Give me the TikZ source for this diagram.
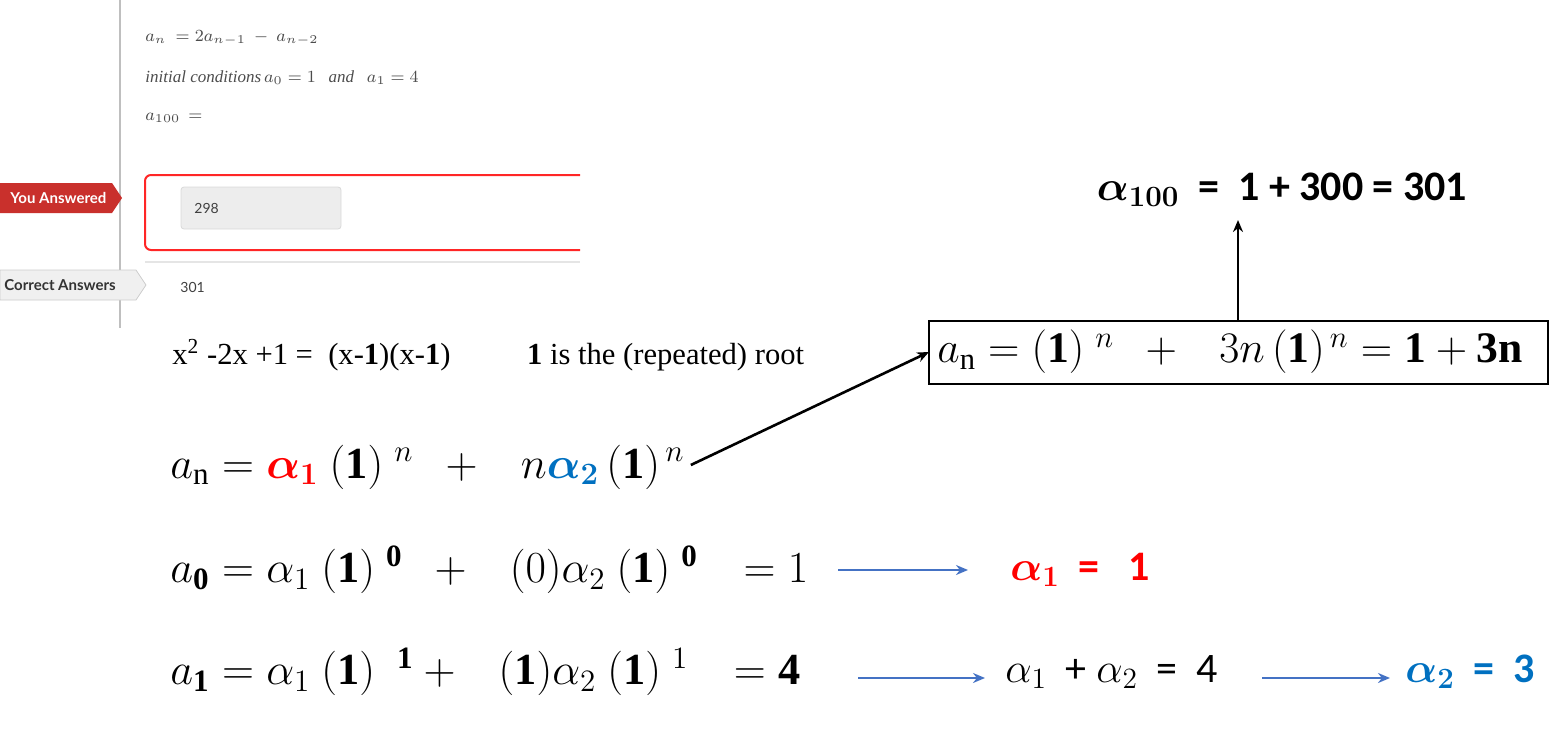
\documentclass[tikz,border=0pt]{standalone}
\usepackage{fix-cm}
\usepackage{amsmath,bm}
\usepackage{fontspec}
\setmainfont{Liberation Serif}
\newfontfamily\quizfont{Lato}
\newfontfamily\calib{Carlito}
\usetikzlibrary{arrows.meta}
\definecolor{eqred}{HTML}{FF0000}
\definecolor{eqblue}{HTML}{0070C0}
\definecolor{arrblue}{HTML}{4472C4}
\definecolor{tagred}{HTML}{C9302C}
\begin{document}
\begin{tikzpicture}[x=0.5pt,y=-0.5pt,
  big/.style={anchor=west,inner sep=0,font=\fontsize{22.2}{25}\selectfont},
  quiz/.style={anchor=west,inner sep=0,font=\fontsize{8.5}{10}\selectfont,text=black!70},
  barrow/.style={draw=arrblue,line width=1.2pt,-{Stealth[length=6pt,width=5pt]}},
  karrow/.style={draw=black,line width=1.3pt,-{Stealth[length=6pt,width=5pt]}}]
\useasboundingbox (0,0) rectangle (1552,738);
% quiz area
\draw[black!25,line width=0.8pt] (120,0) -- (120,328);
\node[quiz] (q1) at (145,38) {$a_n\ =2a_{n-1}\ -\ a_{n-2}$};
\node[quiz] (q2) at (145,78) {$\mathit{initial\ conditions}\,a_0=1\ \ \ \mathit{and}\ \ \ a_1=4$};
\node[quiz] (q3) at (145,118) {$a_{100}\,=$};
\fill[tagred] (0,183) -- (112,183) -- (122,198) -- (112,213) -- (0,213) -- cycle;
\node[anchor=west,inner sep=0,text=white,font=\quizfont\bfseries\fontsize{7.5}{9}\selectfont] (ya) at (10,198) {You Answered};
\draw[red!85,line width=1pt,rounded corners=3pt] (580,175) -- (145,175) -- (145,250) -- (580,250);
\draw[black!15,fill=black!7,rounded corners=1.5pt] (181,187) rectangle (341,229);
\node[anchor=west,inner sep=0,font=\quizfont\fontsize{7}{9}\selectfont,text=black!75] (v298) at (194,208) {298};
\draw[black!10,line width=0.8pt] (145,262) -- (580,262);
\draw[black!20,fill=black!6] (0,270) -- (136,270) -- (146,285) -- (136,300) -- (0,300) -- cycle;
\node[anchor=west,inner sep=0,text=black!80,font=\quizfont\bfseries\fontsize{7.5}{9}\selectfont] (ca) at (4,285) {Correct Answers};
\node[anchor=west,inner sep=0,font=\quizfont\fontsize{7}{9}\selectfont,text=black!75] (v301) at (180,287) {301};
% root line
\node[anchor=west,inner sep=0,font=\fontsize{15.3}{18}\selectfont] (root) at (172,355) {x\textsuperscript{2} -2x +1 =\ \ (x-\textbf{1})(x-\textbf{1})\qquad\ \ \textbf{1} is the (repeated) root};
% general solution
\node[big] (gen) at (170,467) {$a_{\text{n}}=\textcolor{eqred}{\bm{\alpha_1}}\ (\mathbf{1})^{\ n}\ \ +\ \ \ n\textcolor{eqblue}{\bm{\alpha_2}}\,(\mathbf{1})^{\,n}$};
\draw[line width=0.8pt] (929,321) rectangle (1548,384);
\node[anchor=west,inner sep=0,font=\fontsize{21.8}{24}\selectfont] (box) at (937,352) {$a_{\text{n}}=(\mathbf{1})^{\ n}\ \ +\ \ \ 3n\,(\mathbf{1})^{\,n}=\mathbf{1+3n}$};
\coordinate (boxW) at (929,352);
\coordinate (boxN) at (1238,321);
\node[anchor=center,inner sep=0,font=\calib\bfseries\fontsize{21}{24}\selectfont] (a100) at (1282,190) {$\bm{\alpha_{100}}$\ \ =\ \ 1 + 300 = 301};
\draw[karrow] (gen.east)+(6,-2) -- (boxW);
\draw[karrow] (boxN) -- (1238,220);
% row 2
\node[big] (r2) at (170,570) {$a_{\mathbf{0}}=\alpha_1\ (\mathbf{1})^{\ \mathbf{0}}\ \ +\ \ \ (0)\alpha_2\ (\mathbf{1})^{\ \mathbf{0}}\ \ \ =1$};
\node[anchor=west,inner sep=0,text=eqred,font=\calib\bfseries\fontsize{21}{24}\selectfont] (s1) at (1010,570) {$\bm{\alpha_1}$\ \ =\ \ \ 1};
\draw[barrow] (838,570) -- (968,570);
% row 3
\node[big] (r3) at (170,672) {$a_{\mathbf{1}}=\alpha_1\ (\mathbf{1})^{\ \ \mathbf{1}}+\ \ \ (\mathbf{1})\alpha_2\ (\mathbf{1})^{\ 1}\ \ \ =\mathbf{4}$};
\node[anchor=west,inner sep=0,font=\calib\fontsize{21}{24}\selectfont] (s2) at (1005,672) {$\alpha_1$\ \ + $\alpha_2$\ \ =\ \ 4};
\node[anchor=west,inner sep=0,text=eqblue,font=\calib\bfseries\fontsize{21}{24}\selectfont] (s3) at (1405,672) {$\bm{\alpha_2}$\ \ =\ \ 3};
\draw[barrow] (858,678) -- (985,678);
\draw[barrow] (1262,678) -- (1390,678);
\end{tikzpicture}
\end{document}
